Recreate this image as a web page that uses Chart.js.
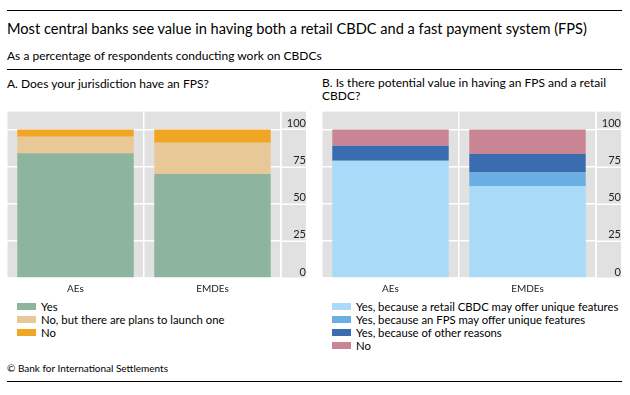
<!DOCTYPE html>
<html>
<head>
<meta charset="utf-8">
<script src="https://cdn.jsdelivr.net/npm/chart.js@4.4.1/dist/chart.umd.min.js"></script>
<style>
  body { margin: 0; width: 630px; height: 395px; background: #fff; position: relative; overflow: hidden;
         font-family: Lato, "Noto Sans", sans-serif; color: #000; }
  .abs { position: absolute; white-space: nowrap; }
  .rule { position: absolute; left: 7px; width: 615px; height: 0; border-top: 1.5px solid #000; }
  .leg { position: absolute; font-size: 11.3px; line-height: 13px; }
  .leg div { height: 13px; display: flex; align-items: center; }
  .leg span.sw { display: inline-block; width: 19px; height: 7px; margin-right: 5px; }
</style>
</head>
<body>
<div class="rule" style="top:10px"></div>
<div class="abs" style="left:7px;top:20px;font-size:14.6px;">Most central banks see value in having both a retail CBDC and a fast payment system (FPS)</div>
<div class="abs" style="left:7px;top:48px;font-size:12px;">As a percentage of respondents conducting work on CBDCs</div>
<div class="rule" style="top:69px"></div>
<div class="abs" style="left:7px;top:76px;font-size:12px;">A. Does your jurisdiction have an FPS?</div>
<div class="abs" style="left:322px;top:76px;font-size:12px;line-height:13px;">B. Is there potential value in having an FPS and a retail<br>CBDC?</div>

<canvas id="chartA" class="abs" style="left:0;top:100px;width:315px;height:200px"></canvas>
<canvas id="chartB" class="abs" style="left:315px;top:100px;width:315px;height:200px"></canvas>

<div id="legA" class="leg" style="left:17px;top:300px"></div>
<div id="legB" class="leg" style="left:332px;top:300px"></div>

<div class="abs" style="left:7px;top:362px;font-size:10px;">© Bank for International Settlements</div>
<div class="rule" style="top:381px"></div>

<script>
// categories
const groups = ['AEs', 'EMDEs'];
const yTicks = [0, 25, 50, 75, 100];

// panel A: does your jurisdiction have an FPS?
const labelsA = ['Yes', 'No, but there are plans to launch one', 'No'];
const colorsA = ['#8db59d', '#e9c897', '#f0a623'];
const yesA = [84, 70];
const plansA = [11, 21];
const noA = [5, 9];

// panel B: potential value in having an FPS and a retail CBDC
const labelsB = ['Yes, because a retail CBDC may offer unique features',
                 'Yes, because an FPS may offer unique features',
                 'Yes, because of other reasons',
                 'No'];
const colorsB = ['#a9daf8', '#6aafe3', '#3a6db0', '#c98593'];
const retailB = [79, 62];
const fpsB = [0, 9];
const otherB = [10, 12.5];
const noB = [11, 16.5];

// gray panel behind plot + tick labels, grid lines carried under the labels
const grayBg = {
  id: 'grayBg',
  beforeDraw(chart) {
    const ctx = chart.ctx, a = chart.chartArea, y = chart.scales.y;
    ctx.save();
    ctx.fillStyle = '#e1e1e1';
    ctx.fillRect(a.left, a.top, y.right - a.left, a.bottom - a.top);
    ctx.strokeStyle = '#ffffff';
    ctx.lineWidth = 1.5;
    yTicks.forEach(v => {
      const py = Math.round(y.getPixelForValue(v)) + 0.25;
      ctx.beginPath();
      ctx.moveTo(a.right, py);
      ctx.lineTo(y.right, py);
      ctx.stroke();
    });
    ctx.restore();
  }
};

function makeChart(id, seriesList, labels, colors) {
  const datasets = seriesList.map((d, i) => ({
    label: labels[i],
    data: d,
    backgroundColor: colors[i],
    borderWidth: 0,
    barPercentage: 0.85,
    categoryPercentage: 1
  }));
  return new Chart(document.getElementById(id), {
    type: 'bar',
    data: { labels: groups, datasets: datasets },
    plugins: [grayBg],
    options: {
      responsive: false,
      animation: false,
      devicePixelRatio: 1,
      layout: { padding: { left: 7, top: 7, right: 9, bottom: 0 } },
      plugins: { legend: { display: false }, tooltip: { enabled: false } },
      scales: {
        x: {
          stacked: true,
          grid: { color: '#ffffff', lineWidth: 1.5, drawTicks: false },
          border: { display: false },
          ticks: { color: '#222', font: { family: 'Lato', size: 10 }, padding: 5 }
        },
        y: {
          stacked: true,
          position: 'right',
          min: 0,
          max: 112,
          afterBuildTicks: s => { s.ticks = yTicks.map(v => ({ value: v })); },
          afterFit: s => { s.width = 25; },
          grid: { color: '#ffffff', lineWidth: 1.5, drawTicks: false },
          border: { display: true, color: '#ffffff', width: 1.5 },
          ticks: { color: '#222', font: { family: 'Lato', size: 11 }, padding: 5, crossAlign: 'far', labelOffset: -6 }
        }
      }
    }
  });
}

function makeLegend(id, labels, colors) {
  const el = document.getElementById(id);
  labels.forEach((l, i) => {
    const row = document.createElement('div');
    row.innerHTML = '<span class="sw" style="background:' + colors[i] + '"></span>' + l;
    el.appendChild(row);
  });
}

['chartA', 'chartB'].forEach(id => {
  document.getElementById(id).width = 315;
  document.getElementById(id).height = 200;
});

makeChart('chartA', [yesA, plansA, noA], labelsA, colorsA);
makeChart('chartB', [retailB, fpsB, otherB, noB], labelsB, colorsB);
makeLegend('legA', labelsA, colorsA);
makeLegend('legB', labelsB, colorsB);
</script>
</body>
</html>
